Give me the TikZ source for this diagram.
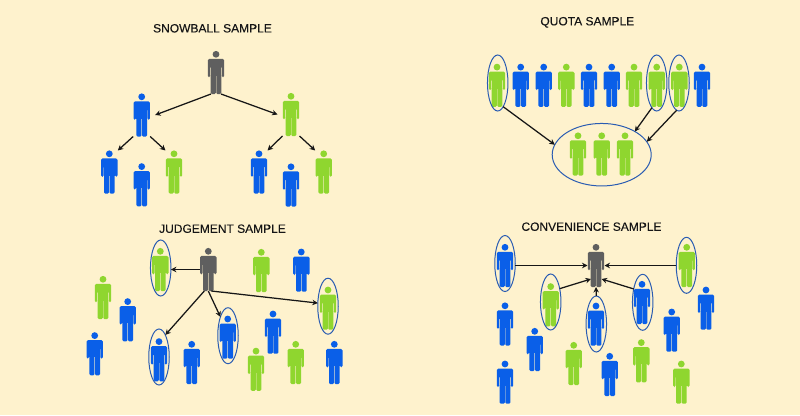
\documentclass[tikz,border=0pt]{standalone}
\usepackage{fontspec}
\setmainfont[FakeBold=0.12]{Liberation Sans}
\usetikzlibrary{arrows.meta,shapes.geometric}

\begin{document}
\begin{tikzpicture}[x=1pt,y=-1pt,
	title/.style={font=\fontsize{12}{14}\selectfont, text=TITLE_BLACK, inner sep=0pt},
	personbox/.style={minimum width=17pt, minimum height=43pt, inner sep=0pt, outer sep=0pt},
	oval/.style={ellipse, draw=OVAL_BLUE, line width=1pt, minimum width=20.5pt, minimum height=56pt, inner sep=0pt, outer sep=0pt},
	arrow/.style={-{Stealth[length=5.5pt,width=5.5pt]}, line width=1.25pt, color=TITLE_BLACK},
	figure/.pic={
		\fill (0,-18.2) circle (3.4);
		\fill[rounded corners=1.4] (-8.2,4.8) -- (-8.2,-13.6) -- (8.2,-13.6) -- (8.2,4.8) -- (5.7,4.8) -- (5.7,-6) -- (-5.7,-6) -- (-5.7,4.8) -- cycle;
		\fill (-5.3,-7) rectangle (5.3,3.5);
		\fill[rounded corners=1.2] (-5.3,2) -- (-0.25,2) -- (-0.25,21.5) -- (-5.3,21.5) -- cycle;
		\fill[rounded corners=1.2] (0.25,2) -- (5.3,2) -- (5.3,21.5) -- (0.25,21.5) -- cycle;
	}]
	\definecolor{BACKGROUND}{RGB}{254, 242, 205}
	\definecolor{BLUE}{RGB}{10, 95, 232}
	\definecolor{GREEN}{RGB}{143, 214, 47}
	\definecolor{GRAY}{RGB}{95, 95, 95}
	\definecolor{OVAL_BLUE}{RGB}{42, 92, 178}
	\definecolor{TITLE_BLACK}{RGB}{22, 22, 22}
	\fill[BACKGROUND] (0,0) rectangle (800,415);

	\node[title] (titleSnowball) at (212.5,28.3) {SNOWBALL SAMPLE};
	\node[title] (titleQuota) at (587.3,22.3) {QUOTA SAMPLE};
	\node[title] (titleJudgement) at (222.5,228.7) {JUDGEMENT SAMPLE};
	\node[title] (titleConvenience) at (591.5,226.7) {CONVENIENCE SAMPLE};

	\foreach \name/\xpos/\ypos/\shade in {
		sRoot/216/72.5/GRAY, sLeft/141.7/115/BLUE, sRight/291/114.5/GREEN,
		sA/109.3/172/BLUE, sB/141.7/184.8/BLUE, sC/174/172/GREEN,
		sD/259/172/BLUE, sE/291/185/BLUE, sF/323.7/172/GREEN}
	{
		\node[personbox] (\name) at (\xpos,\ypos) {};
		\pic[color=\shade] at (\name) {figure};
	}

	\foreach \name/\xpos/\ypos/\shade in {
		qA/497/85.3/GREEN, qB/520.7/85.3/BLUE, qC/543.7/85.3/BLUE, qD/566.3/85.3/GREEN, qE/589/85.3/BLUE,
		qF/611.7/85.3/BLUE, qG/634/85.3/GREEN, qH/656.7/85.3/GREEN, qI/679.3/85.3/GREEN, qJ/702/85.3/BLUE,
		qK/578/154/GREEN, qL/601.7/154/GREEN, qM/625/154/GREEN}
	{
		\node[personbox] (\name) at (\xpos,\ypos) {};
		\pic[color=\shade] at (\name) {figure};
	}

	\foreach \name/\xpos/\ypos/\shade in {
		jRoot/208.3/269.5/GRAY, jA/160.3/269.5/GREEN, jB/261.3/270.5/GREEN, jC/301.3/270.2/BLUE,
		jD/328/308.2/GREEN, jE/103/297.5/GREEN, jF/127.7/319.8/BLUE, jG/94.7/353.8/BLUE,
		jH/159/359.8/BLUE, jI/191.7/362.5/BLUE, jJ/227.7/337.2/BLUE, jK/273/332.2/BLUE,
		jL/256/369.3/GREEN, jM/295.7/362.5/GREEN, jN/334.3/362.5/BLUE}
	{
		\node[personbox] (\name) at (\xpos,\ypos) {};
		\pic[color=\shade] at (\name) {figure};
	}

	\foreach \name/\xpos/\ypos/\shade in {
		cRoot/596/265.5/GRAY, cA/505/265.5/BLUE, cB/686.7/265.5/GREEN, cC/550.7/304.8/GREEN,
		cD/596/324.2/BLUE, cE/642/302.5/BLUE, cF/706/308.2/BLUE, cG/671.7/330.2/BLUE,
		cH/505/324/BLUE, cI/505/382.2/BLUE, cJ/534.7/349.5/BLUE, cK/573.7/363.5/GREEN,
		cL/609.7/374.5/BLUE, cM/641.3/360.8/GREEN, cN/681.3/382.2/GREEN}
	{
		\node[personbox] (\name) at (\xpos,\ypos) {};
		\pic[color=\shade] at (\name) {figure};
	}

	\foreach \name/\xpos/\ypos in {
		qOvalA/497.7/83, qOvalB/656.7/83, qOvalC/679/83,
		jOvalA/160.7/268, jOvalB/328/306.2, jOvalC/159/357, jOvalD/228/335.7,
		cOvalA/505/263.5, cOvalB/686.5/265.3, cOvalC/550.7/302, cOvalD/596.3/324, cOvalE/642.7/302.3}
		\node[oval] (\name) at (\xpos,\ypos) {};
	\node[oval, minimum width=99pt, minimum height=62.5pt] (qOvalBig) at (601.7,154.7) {};

	\draw[arrow] ([xshift=-5pt]sRoot.south) -- ([xshift=5pt]sLeft.east);
	\draw[arrow] ([xshift=5pt]sRoot.south) -- ([xshift=-5pt]sRight.west);
	\draw[arrow] (sLeft.south west) -- (sA.north east);
	\draw[arrow] (sLeft.south east) -- (sC.north west);
	\draw[arrow] (sRight.south west) -- (sD.north east);
	\draw[arrow] (sRight.south east) -- (sF.north west);

	\draw[arrow] (qOvalA.-77) -- (qOvalBig.168);
	\draw[arrow] (qOvalB.-101) -- (qOvalBig.35);
	\draw[arrow] (qOvalC.-95) -- (qOvalBig.16);

	\draw[arrow] (jRoot.west) -- (jRoot.west -| jOvalA.east);
	\draw[arrow] ([xshift=3pt]jRoot.south) -- (jOvalB.163);
	\draw[arrow] ([xshift=-4pt]jRoot.south) -- (jOvalC.74);
	\draw[arrow] (jRoot.south) -- (jOvalD.112);

	\draw[arrow] (cRoot.west -| cOvalA.east) -- (cRoot.west);
	\draw[arrow] (cRoot.east -| cOvalB.west) -- (cRoot.east);
	\draw[arrow] (cOvalC.56) -- ([xshift=3.5pt,yshift=-13.5pt]cRoot.west);
	\draw[arrow] (cOvalE.124) -- ([xshift=-3pt,yshift=-13.5pt]cRoot.east);
	\draw[arrow] (cOvalD.north) -- (cRoot.south);
\end{tikzpicture}
\end{document}
